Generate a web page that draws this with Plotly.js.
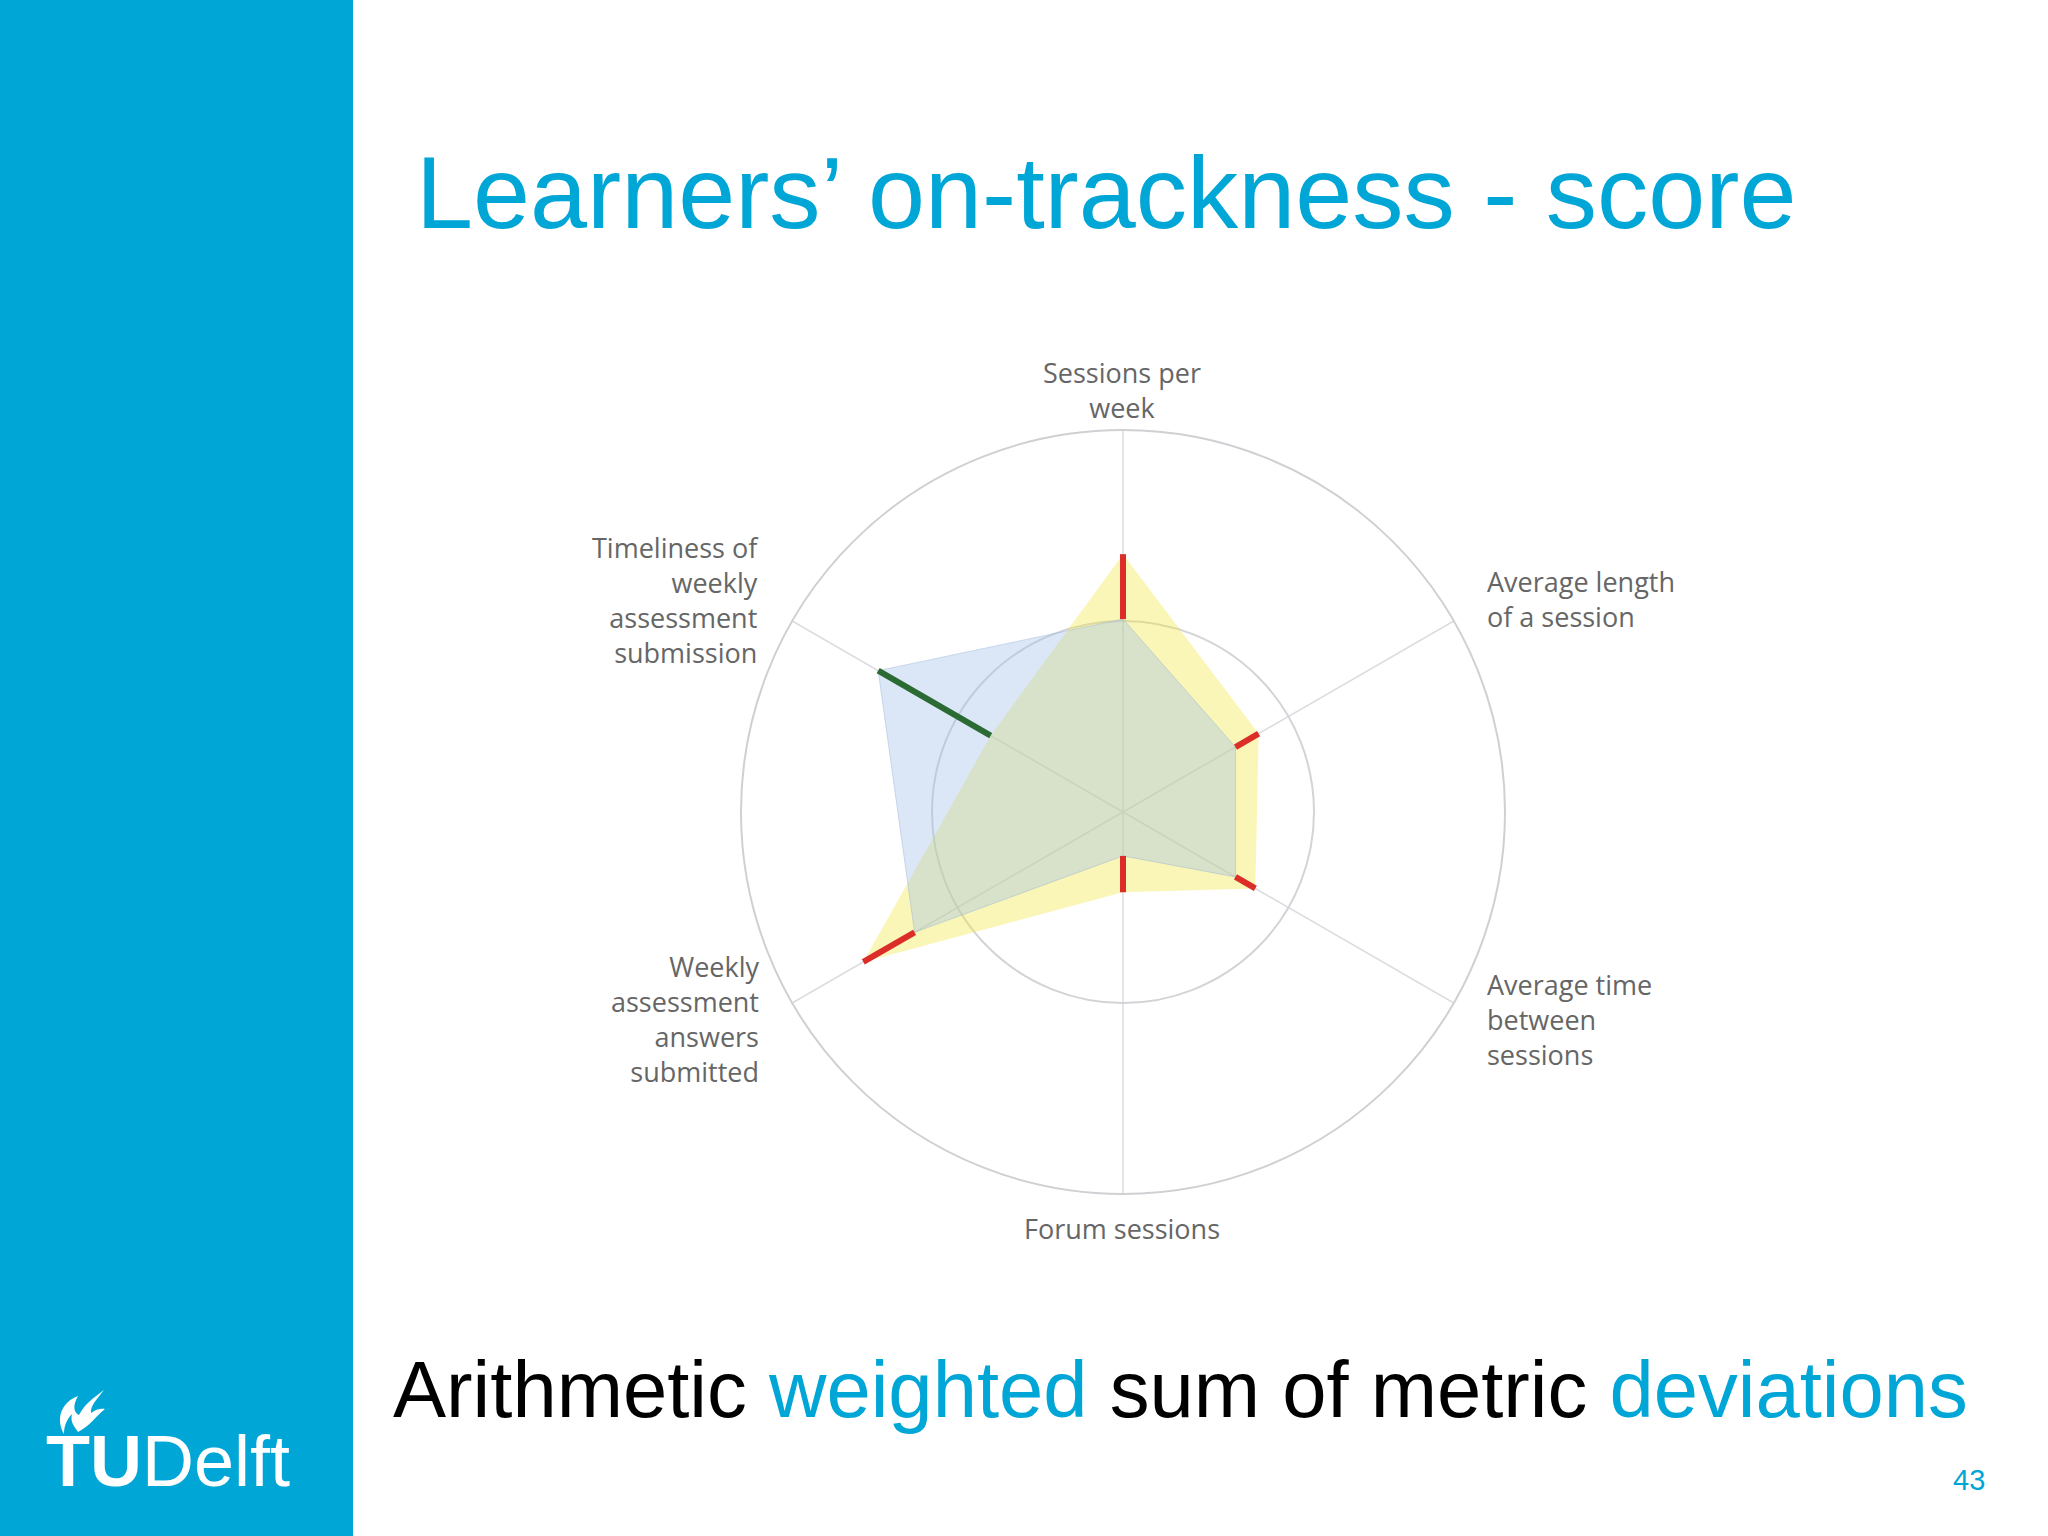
<!DOCTYPE html>
<html>
<head>
<meta charset="utf-8">
<script src="https://cdn.plot.ly/plotly-3.0.1.min.js"></script>
<style>
  html, body { margin: 0; padding: 0; background: #ffffff; }
  #chart { width: 2048px; height: 1536px; }
</style>
</head>
<body>
<div id="chart"></div>
<script>
// ---------------- data ----------------
const categories = [
  "Sessions per week",
  "Average length of a session",
  "Average time between sessions",
  "Forum sessions",
  "Weekly assessment answers submitted",
  "Timeliness of weekly assessment submission"
];
const categoryLabels = [
  "Sessions per<br>week",
  "Average length<br>of a session",
  "Average time<br>between<br>sessions",
  "Forum sessions",
  "Weekly<br>assessment<br>answers<br>submitted",
  "Timeliness of<br>weekly<br>assessment<br>submission"
];
// reference profile (yellow) and learner profile (blue)
const referenceValues = [1.35, 0.82, 0.80, 0.42, 1.57, 0.80];
const learnerValues   = [1.01, 0.68, 0.68, 0.23, 1.26, 1.48];

const titleText = "Learners\u2019 on-trackness - score";
const footerParts = [
  ["Arithmetic ", "#000000"],
  ["weighted", "#00a6d6"],
  [" sum of metric ", "#000000"],
  ["deviations", "#00a6d6"]
];
const pageNumber = "43";

// ---------------- layout helpers ----------------
const W = 2048, H = 1536;
const px = (x) => x / W;
const py = (y) => 1 - y / H;

const cx = 1123, cy = 812, R = 382;

// ---------------- traces ----------------
const closeLoop = (a) => a.concat([a[0]]);
const traces = [];

traces.push({
  type: "scatterpolar",
  r: closeLoop(referenceValues),
  theta: closeLoop(categories),
  mode: "lines",
  fill: "toself",
  fillcolor: "rgba(242,230,55,0.36)",
  line: { color: "rgba(242,230,55,0.0)", width: 0 },
  hoverinfo: "skip"
});
traces.push({
  type: "scatterpolar",
  r: closeLoop(learnerValues),
  theta: closeLoop(categories),
  mode: "lines",
  fill: "toself",
  fillcolor: "rgba(160,192,232,0.38)",
  line: { color: "rgba(150,180,215,0.45)", width: 1 },
  hoverinfo: "skip"
});
// deviation segments
categories.forEach((c, i) => {
  const above = learnerValues[i] > referenceValues[i];
  traces.push({
    type: "scatterpolar",
    r: [learnerValues[i], referenceValues[i]],
    theta: [c, c],
    mode: "lines",
    line: { color: above ? "#2b6a33" : "#dc2e28", width: 6 },
    hoverinfo: "skip"
  });
});

// ---------------- annotations ----------------
const labelPos = [
  { x: 1122, y: 390, xanchor: "center", align: "center" },
  { x: 1485, y: 599, xanchor: "left", align: "left" },
  { x: 1485, y: 1019, xanchor: "left", align: "left" },
  { x: 1122, y: 1228, xanchor: "center", align: "center" },
  { x: 761, y: 1019, xanchor: "right", align: "right" },
  { x: 761, y: 600, xanchor: "right", align: "right" }
];
const annotations = categoryLabels.map((t, i) => ({
  text: t,
  xref: "paper", yref: "paper",
  x: px(labelPos[i].x), y: py(labelPos[i].y),
  xanchor: labelPos[i].xanchor, yanchor: "middle",
  align: labelPos[i].align,
  showarrow: false,
  font: { family: "Open Sans", size: 27, color: "#666666" }
}));

annotations.push({
  text: titleText,
  xref: "paper", yref: "paper",
  x: px(414), y: py(193),
  xanchor: "left", yanchor: "middle",
  showarrow: false,
  font: { family: "Liberation Sans", size: 102.5, color: "#00a6d6" }
});
annotations.push({
  text: footerParts.map(p => '<span style="color:' + p[1] + '">' + p[0] + '</span>').join(""),
  xref: "paper", yref: "paper",
  x: px(391), y: py(1389),
  xanchor: "left", yanchor: "middle",
  showarrow: false,
  font: { family: "Liberation Sans", size: 79.6, color: "#000000" }
});
annotations.push({
  text: pageNumber,
  xref: "paper", yref: "paper",
  x: px(1987), y: py(1480),
  xanchor: "right", yanchor: "middle",
  showarrow: false,
  font: { family: "Liberation Sans", size: 29, color: "#00a6d6" }
});
annotations.push({
  text: "<b>TU</b>Delft",
  xref: "paper", yref: "paper",
  x: px(44), y: py(1461),
  xanchor: "left", yanchor: "middle",
  showarrow: false,
  font: { family: "Liberation Sans", size: 72, color: "#ffffff" }
});

// ---------------- shapes ----------------
function pathFrom(cmds) {
  return cmds.map(c => {
    if (typeof c === "string") return c;
    return px(c[0]).toFixed(5) + "," + py(c[1]).toFixed(5);
  }).join(" ");
}
const flame = pathFrom([
  "M", [64, 1434],
  "C", [55, 1418], [62, 1402], [78, 1396],
  "C", [73, 1405], [73, 1412], [79, 1415],
  "C", [84, 1405], [93, 1398], [104, 1390],
  "C", [97, 1399], [90, 1406], [91, 1413],
  "C", [96, 1409], [101, 1408], [105, 1409],
  "C", [97, 1415], [90, 1426], [78, 1432],
  "C", [74, 1426], [70, 1422], [72, 1414],
  "C", [66, 1420], [64, 1427], [64, 1434],
  "Z"
]);

const shapes = [
  {
    type: "rect", xref: "paper", yref: "paper",
    x0: 0, x1: px(353), y0: 0, y1: 1,
    fillcolor: "#00a6d6", line: { width: 0 }, layer: "below"
  },
  {
    type: "path", xref: "paper", yref: "paper",
    path: flame, fillcolor: "#ffffff", line: { width: 0 }
  }
];

// ---------------- layout ----------------
const layout = {
  width: W, height: H,
  margin: { l: 0, r: 0, t: 0, b: 0 },
  paper_bgcolor: "#ffffff",
  showlegend: false,
  polar: {
    domain: { x: [px(cx - R), px(cx + R)], y: [py(cy + R), py(cy - R)] },
    bgcolor: "rgba(0,0,0,0)",
    radialaxis: {
      range: [0, 2],
      tickvals: [1],
      showticklabels: false,
      ticks: "",
      showline: false,
      gridcolor: "#d4d4d8",
      gridwidth: 2
    },
    angularaxis: {
      type: "category",
      categoryarray: categories,
      direction: "clockwise",
      rotation: 90,
      showticklabels: false,
      ticks: "",
      showline: true,
      linecolor: "#d0d0d4",
      linewidth: 2,
      gridcolor: "#dcdce0",
      gridwidth: 1.5
    }
  },
  annotations: annotations,
  shapes: shapes
};

Plotly.newPlot("chart", traces, layout, { staticPlot: true, displayModeBar: false });
</script>
</body>
</html>
